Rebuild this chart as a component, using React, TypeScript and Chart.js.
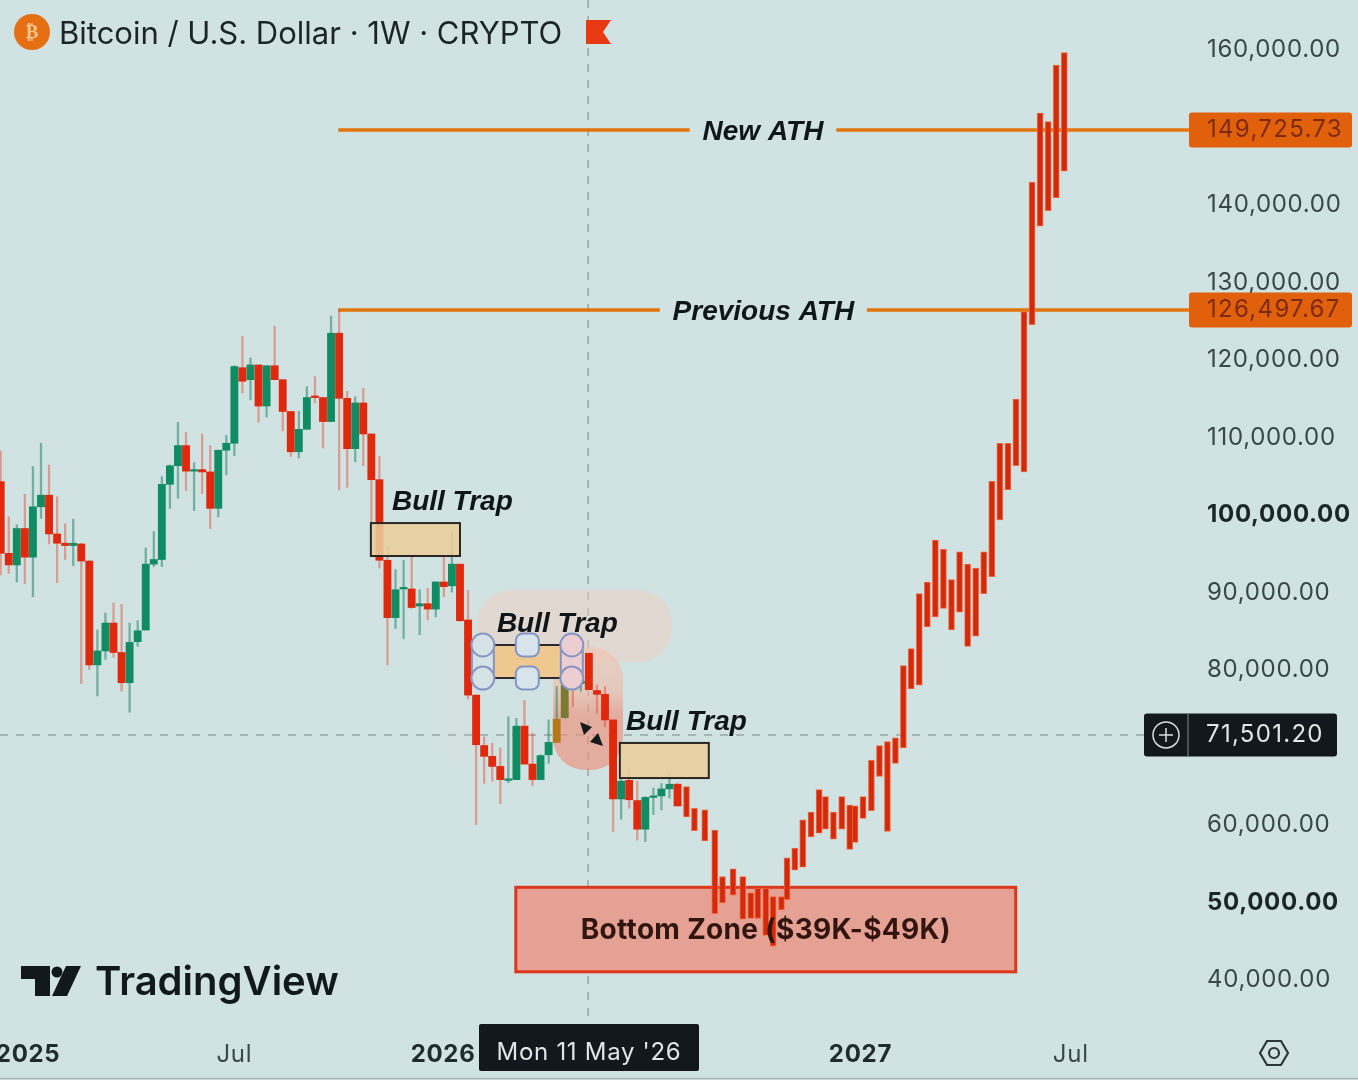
import React, { useEffect, useRef } from "react";
import { Chart, registerables } from "chart.js";

Chart.register(...registerables);

// Weekly candles, prices in thousands of USD
const opens = [
  104.05, 94.8, 93.3, 98.0, 94.3, 100.8, 102.3, 97.3, 96.1, 95.8,
  96, 93.8, 80.4, 82.2, 85.8, 82, 78.1, 83.4, 84.9, 93.4,
  94, 103.7, 106.1, 108.7, 105.4, 105.6, 105.3, 100.6, 108.1, 109,
  118.75, 117.2, 119.1, 113.8, 119, 117.2, 113.1, 107.9, 110.8, 115.1,
  114.9, 111.8, 123.2, 114.8, 108.3, 114.2, 110.2, 104.3, 93.9, 86.5,
  90.2, 90.2, 88, 88.3, 87.6, 91.1, 90.6, 93.4, 86.2, 76.5,
  70, 68.6, 67.3, 65.5, 65.6, 72.5, 67.6, 65.6, 68.8, 70.4,
  73.6, 78, 78, 81.9, 77.1, 76.6, 73.3, 63.1, 65.5, 62.9,
  59.2, 63.3, 63.5, 64.4, 65,
];
const closes = [
  94.8, 93.3, 98, 94.3, 100.8, 102.3, 97.3, 96.1, 95.8, 96.1,
  93.8, 80.4, 82.2, 85.8, 82, 78.1, 83.3, 84.8, 93.4, 94,
  103.7, 106.1, 108.7, 105.4, 105.6, 105.3, 100.6, 108.1, 109, 118.9,
  117, 119.1, 113.8, 119, 117.2, 113.1, 107.9, 110.8, 114.9, 114.9,
  111.8, 123.2, 114.8, 108.3, 114.2, 110.2, 104.3, 93.9, 86.5, 90.1,
  90.4, 87.8, 88.3, 87.6, 91.1, 90.5, 93.4, 86.1, 76.5, 70.1,
  68.6, 67.3, 65.6, 65.7, 72.5, 67.6, 65.6, 68.7, 70.4, 73.4,
  77.8, 77.6, 78.3, 77.2, 76.6, 73.3, 63.1, 65.4, 63, 59.2,
  63.3, 63.5, 64.4, 65, 62.2,
];
const highs = [
  108, 99.5, 98.5, 102.4, 106, 109, 106.2, 102.1, 98.6, 99.2,
  96.1, 93.9, 84.9, 87.1, 88.4, 88.2, 85.8, 86.1, 95.5, 97.6,
  104.7, 106.2, 111.7, 110.4, 106.5, 110.2, 108.7, 108.1, 110, 119,
  122.8, 120, 119.1, 119, 124.1, 117.2, 113.1, 113.1, 116.3, 117.6,
  114.9, 125.4, 126.2, 115.7, 115, 116.1, 110.2, 107.3, 95.7, 92.7,
  93.9, 94.4, 90.1, 90.3, 91.1, 94.4, 97.6, 93.4, 90, 76.5,
  71.1, 70.3, 69.7, 73.7, 73.5, 75.8, 71.6, 68.8, 73.3, 77.6,
  78.2, 80, 79, 81.9, 77.8, 77.6, 73.3, 65.6, 67.1, 65.4,
  63.4, 64.5, 65.1, 66.5, 65.2,
];
const lows = [
  92, 92.2, 91.1, 90.9, 89.2, 99.3, 96, 91, 94, 93.2,
  78, 79.8, 76.4, 81.1, 81.4, 77, 74.3, 82.8, 84.9, 93.1,
  93.1, 100.6, 101.9, 102.9, 100.3, 102.5, 98, 99.5, 104.9, 107.4,
  115.5, 114.6, 111.7, 112.4, 117.2, 110.6, 107.3, 107.1, 110.8, 114.2,
  108.4, 111.8, 103, 103.3, 106.6, 106.1, 98.7, 92.9, 80.4, 85.1,
  83.8, 87.7, 84.3, 86.2, 86.6, 89.2, 89.8, 86, 76, 59.8,
  65.1, 65.4, 62.5, 65.2, 65.6, 67.6, 64.8, 65.6, 67.7, 70.4,
  73.5, 75, 77, 77.2, 74.2, 72.4, 58.9, 60.5, 61.9, 57.8,
  57.6, 61.1, 61.7, 63.2, 62.2,
];

// Hand-drawn projection bars (week position on the time axis, top, bottom)
const projectedWeeks = [
  85.11, 86.1, 87.38, 88.62, 89.58, 90.89, 92.1, 93.09, 93.96, 94.95,
  95.86, 96.9, 97.59, 98.55, 99.54, 100.57, 101.57, 102.36, 103.35, 104.38,
  105.37, 106.03, 107.02, 108.06, 109.06, 110.05, 111.04, 112.03, 113, 114,
  115, 116, 117, 118, 119, 120, 121, 122, 123, 124,
  125, 126, 127, 128, 129, 130, 131, 132,
];
const projectedTops = [
  64.7, 61.9, 61.7, 59.1, 53.1, 54.1, 53.1, 51, 51.6, 51.6,
  50.5, 50.5, 55.5, 56.75, 60.4, 61.4, 64.3, 63.4, 61.4, 63.4,
  62.3, 62.2, 63.4, 68.1, 70, 70.5, 71, 80.3, 82.5, 89.6,
  91.1, 96.5, 95.3, 91.4, 95, 93.4, 92.9, 95, 104.1, 109,
  109, 114.7, 126, 142.7, 151.6, 150.5, 157.8, 159.4,
];
const projectedBottoms = [
  60.8, 59, 57.7, 48.3, 49.7, 50.7, 47.6, 47.7, 47.7, 45.5,
  44.1, 48.8, 50.1, 53.9, 54.3, 58.2, 58.7, 59.2, 57.9, 59.2,
  56.6, 57.5, 60.6, 61.6, 66, 58.9, 67.7, 69.7, 77.3, 77.8,
  85.3, 86.6, 87.7, 84.9, 87.2, 82.8, 84.1, 89.6, 91.8, 99.1,
  103, 106.1, 105.3, 124.3, 137, 139, 140.7, 144.1,
];

const priceTicks = [40000, 50000, 60000, 80000, 90000, 100000, 110000, 120000, 130000, 140000, 160000];
const boldPriceTicks = [50000, 100000];
const timeTickWeeks = [3.4, 29, 54.9, 106.7, 132.8];
const timeTickLabels = ["2025", "Jul", "2026", "2027", "Jul"];
const boldTimeLabels = ["2025", "2026", "2027"];

const levels = [
  { name: "New ATH", price: 149420, tag: "149,725.73", from: 41.9, gapFrom: 85.5, gapTo: 103.7 },
  { name: "Previous ATH", price: 126190, tag: "126,497.67", from: 41.9, gapFrom: 81.8, gapTo: 107.5 },
];
const trapBoxes = [
  { weeks: [45.94, 57], prices: [98.7, 94.45], labelWeek: 56.05, labelPrice: 101.44 },
  { weeks: [76.84, 87.88], prices: [70.33, 65.8], labelWeek: 85.1, labelPrice: 72.94 },
];
const selectedBox = { weeks: [59.84, 70.88], prices: [82.97, 78.7], labelWeek: 69.08, labelPrice: 85.64 };
const bottomZone = { weeks: [63.93, 125.97], prices: [51.7, 40.8], label: "Bottom Zone ($39K-$49K)" };

const crossWeek = 72.9;
const crossLevel = 71360;
const crossPriceLabel = "71,501.20";
const crossDateLabel = "Mon 11 May '26";
const title = "Bitcoin / U.S. Dollar · 1W · CRYPTO";

const BG = "#d1e2e2";
const RED = "#e0290c";
const GREEN = "#0f8c62";
const INK = "#1b2528";
const LEVEL = "#e2760c";
const muddyBodies: Record<number, string> = { 69: "#b5781c", 70: "#7b7a32" };

const bodyColors = opens.map((o, i) => muddyBodies[i] || (closes[i] >= o ? GREEN : RED));
const wickColors = opens.map((o, i) => (closes[i] >= o ? "rgba(15,125,95,0.5)" : "rgba(226,60,30,0.42)"));

function rr(ctx: CanvasRenderingContext2D, x: number, y: number, w: number, h: number, r: number) {
  ctx.beginPath();
  ctx.roundRect(x, y, w, h, r);
}

const annotations = {
  id: "annotations",
  beforeDraw(chart: any) {
    const { ctx, width, height, scales } = chart;
    ctx.save();
    ctx.fillStyle = BG;
    ctx.fillRect(0, 0, width, height);
    ctx.restore();
    ctx.letterSpacing = "0.7px";
    // nudge the price labels to sit where the reference has them
    for (const item of scales.y.getLabelItems()) {
      if (!item.options.nudged) {
        item.options = { ...item.options, nudged: true, translation: [item.options.translation[0], item.options.translation[1] + 2] };
      }
    }
  },
  beforeDatasetsDraw(chart: any) {
    const { ctx, scales } = chart;
    const X = (w: number) => scales.x.getPixelForValue(w);
    const Y = (k: number) => scales.y.getPixelForValue(k * 1000);
    ctx.save();
    // crosshair
    ctx.strokeStyle = "#97a6a7";
    ctx.lineWidth = 1.5;
    ctx.setLineDash([8, 8]);
    ctx.beginPath();
    ctx.moveTo(X(crossWeek), 0);
    ctx.lineTo(X(crossWeek), 1024);
    ctx.moveTo(0, scales.y.getPixelForValue(crossLevel));
    ctx.lineTo(1144, scales.y.getPixelForValue(crossLevel));
    ctx.stroke();
    ctx.setLineDash([]);
    // highlighter strokes
    ctx.fillStyle = "rgba(240,225,215,0.1)";
    rr(ctx, 445, 540, 32, 225, 14);
    ctx.fill();
    ctx.fillStyle = "rgba(246,205,190,0.45)";
    rr(ctx, 477, 590, 195, 72, 34);
    ctx.fill();
    const g = ctx.createLinearGradient(0, 647, 0, 770);
    g.addColorStop(0, "rgba(242,195,175,0.6)");
    g.addColorStop(0.35, "rgba(240,185,165,0.62)");
    g.addColorStop(0.55, "rgba(236,145,125,0.66)");
    g.addColorStop(1, "rgba(236,145,125,0.66)");
    ctx.fillStyle = g;
    rr(ctx, 553, 647, 70, 123, 32);
    ctx.fill();
    // level lines
    for (const l of levels) {
      const y = scales.y.getPixelForValue(l.price);
      ctx.strokeStyle = LEVEL;
      ctx.lineWidth = 3.5;
      ctx.beginPath();
      ctx.moveTo(X(l.from), y);
      ctx.lineTo(X(l.gapFrom), y);
      ctx.moveTo(X(l.gapTo), y);
      ctx.lineTo(chart.chartArea.right, y);
      ctx.stroke();
    }
    // bottom zone
    const zx = X(bottomZone.weeks[0]);
    const zy = Y(bottomZone.prices[0]);
    const zw = X(bottomZone.weeks[1]) - zx;
    const zh = Y(bottomZone.prices[1]) - zy;
    ctx.fillStyle = "#e5a294";
    ctx.fillRect(zx, zy, zw, zh);
    ctx.strokeStyle = "#dc371a";
    ctx.lineWidth = 3;
    ctx.strokeRect(zx, zy, zw, zh);
    ctx.restore();
  },
  afterDatasetsDraw(chart: any) {
    const { ctx, scales } = chart;
    const X = (w: number) => scales.x.getPixelForValue(w);
    const Y = (k: number) => scales.y.getPixelForValue(k * 1000);
    ctx.save();
    ctx.letterSpacing = "0px";
    ctx.textAlign = "center";
    ctx.textBaseline = "middle";

    // bull trap boxes
    for (const b of trapBoxes) {
      const x = X(b.weeks[0]);
      const y = Y(b.prices[0]);
      const w = X(b.weeks[1]) - x;
      const h = Y(b.prices[1]) - y;
      ctx.fillStyle = "rgba(233,205,155,0.88)";
      ctx.fillRect(x, y, w, h);
      ctx.strokeStyle = "#2a2620";
      ctx.lineWidth = 2;
      ctx.strokeRect(x, y, w, h);
      ctx.fillStyle = "#0f1518";
      ctx.font = "italic bold 28px 'Liberation Sans'";
      ctx.fillText("Bull Trap", X(b.labelWeek), Y(b.labelPrice));
    }

    // selected box with its handles
    const sx0 = X(selectedBox.weeks[0]);
    const sx1 = X(selectedBox.weeks[1]);
    const sy0 = Y(selectedBox.prices[0]);
    const sy1 = Y(selectedBox.prices[1]);
    const sxm = (sx0 + sx1) / 2;
    ctx.fillStyle = "#eec88f";
    ctx.fillRect(sx0, sy0, sx1 - sx0, sy1 - sy0);
    ctx.strokeStyle = "#2a2a2e";
    ctx.lineWidth = 2;
    ctx.beginPath();
    ctx.moveTo(sx0, sy0);
    ctx.lineTo(sx1, sy0);
    ctx.moveTo(sx0, sy1);
    ctx.lineTo(sx1, sy1);
    ctx.stroke();
    ctx.strokeStyle = "#8695c4";
    for (const [cx, fill] of [
      [sx0, "#d5e2e6"],
      [sx1, "#eccdd2"],
    ] as [number, string][]) {
      ctx.fillStyle = fill;
      rr(ctx, cx - 11, sy0, 22, sy1 - sy0, 6);
      ctx.fill();
      ctx.stroke();
      for (const cy of [sy0, sy1]) {
        ctx.beginPath();
        ctx.arc(cx, cy, 11.5, 0, Math.PI * 2);
        ctx.fill();
        ctx.stroke();
      }
    }
    ctx.fillStyle = "#d8e4ec";
    for (const cy of [sy0, sy1]) {
      rr(ctx, sxm - 11.5, cy - 11.5, 23, 23, 7);
      ctx.fill();
      ctx.stroke();
    }
    ctx.fillStyle = "#0f1518";
    ctx.font = "italic bold 28px 'Liberation Sans'";
    ctx.fillText("Bull Trap", X(selectedBox.labelWeek), Y(selectedBox.labelPrice));

    // resize cursor
    ctx.fillStyle = "#15191b";
    ctx.beginPath();
    ctx.moveTo(580, 722);
    ctx.lineTo(592, 727);
    ctx.lineTo(584, 735);
    ctx.closePath();
    ctx.moveTo(603, 746);
    ctx.lineTo(590, 742);
    ctx.lineTo(598, 733);
    ctx.closePath();
    ctx.fill();

    // level labels
    for (const l of levels) {
      ctx.fillStyle = "#10171a";
      ctx.font = "italic bold 28px 'Liberation Sans'";
      ctx.fillText(l.name, (X(l.gapFrom) + X(l.gapTo)) / 2, scales.y.getPixelForValue(l.price) + 2);
    }

    // bottom zone label
    ctx.letterSpacing = "0.3px";
    ctx.fillStyle = "#33150f";
    ctx.font = "700 28px Inter";
    ctx.fillText(
      bottomZone.label,
      (X(bottomZone.weeks[0]) + X(bottomZone.weeks[1])) / 2,
      (Y(bottomZone.prices[0]) + Y(bottomZone.prices[1])) / 2 + 1.5
    );
    ctx.restore();
  },
  afterDraw(chart: any) {
    const { ctx, scales } = chart;
    ctx.save();
    ctx.letterSpacing = "0px";
    ctx.textBaseline = "middle";

    // header
    ctx.fillStyle = "#e56f12";
    ctx.beginPath();
    ctx.arc(32, 32, 18, 0, Math.PI * 2);
    ctx.fill();
    ctx.fillStyle = "#f6c890";
    ctx.textAlign = "center";
    ctx.font = "700 19px 'DejaVu Sans'";
    ctx.fillText("₿", 32, 33);
    ctx.fillStyle = INK;
    ctx.textAlign = "left";
    ctx.font = "400 31px Inter";
    ctx.fillText(title, 59, 35);
    ctx.fillStyle = "#e83a12";
    ctx.beginPath();
    ctx.moveTo(586, 20);
    ctx.lineTo(611, 20);
    ctx.lineTo(603, 32);
    ctx.lineTo(611, 44);
    ctx.lineTo(586, 44);
    ctx.closePath();
    ctx.fill();

    // TradingView watermark
    ctx.fillStyle = "#12191c";
    ctx.beginPath();
    ctx.moveTo(21, 966);
    ctx.lineTo(50, 966);
    ctx.lineTo(50, 996);
    ctx.lineTo(35, 996);
    ctx.lineTo(35, 979);
    ctx.lineTo(21, 979);
    ctx.closePath();
    ctx.moveTo(66, 966);
    ctx.lineTo(81, 966);
    ctx.lineTo(67, 996);
    ctx.lineTo(52, 996);
    ctx.closePath();
    ctx.fill();
    ctx.beginPath();
    ctx.arc(57, 972, 5.5, 0, Math.PI * 2);
    ctx.fill();
    ctx.font = "600 40px Inter";
    ctx.fillText("TradingView", 95, 983);

    // level price tags
    ctx.letterSpacing = "1.3px";
    ctx.font = "400 24px Inter";
    for (const l of levels) {
      const y = scales.y.getPixelForValue(l.price);
      ctx.fillStyle = "#e0600c";
      rr(ctx, 1189, y - 17.5, 163, 35, 3);
      ctx.fill();
      ctx.fillStyle = "#7e2a12";
      ctx.textAlign = "left";
      ctx.fillText(l.tag, 1207, y);
    }

    // crosshair tags
    const cy = scales.y.getPixelForValue(crossLevel);
    ctx.fillStyle = "#12181b";
    rr(ctx, 1144, cy - 21.5, 193, 43, 3);
    ctx.fill();
    ctx.strokeStyle = "#5e6668";
    ctx.lineWidth = 1.5;
    ctx.beginPath();
    ctx.moveTo(1188, cy - 21);
    ctx.lineTo(1188, cy + 21);
    ctx.stroke();
    ctx.strokeStyle = "#d9dfdf";
    ctx.beginPath();
    ctx.arc(1166, cy, 13, 0, Math.PI * 2);
    ctx.moveTo(1159, cy);
    ctx.lineTo(1173, cy);
    ctx.moveTo(1166, cy - 7);
    ctx.lineTo(1166, cy + 7);
    ctx.stroke();
    ctx.fillStyle = "#dfe6e6";
    ctx.fillText(crossPriceLabel, 1206, cy);

    ctx.letterSpacing = "0.7px";
    ctx.fillStyle = "#12181b";
    rr(ctx, 479, 1024, 220, 47, 2);
    ctx.fill();
    ctx.fillStyle = "#dfe6e6";
    ctx.textAlign = "center";
    ctx.fillText(crossDateLabel, 589, 1053);

    // settings glyph
    ctx.strokeStyle = "#2b3639";
    ctx.lineWidth = 2.2;
    ctx.beginPath();
    const hex = [
      [1260, 1053],
      [1267, 1041],
      [1281, 1041],
      [1288, 1053],
      [1281, 1065],
      [1267, 1065],
    ];
    hex.forEach(([hx, hy], i) => (i ? ctx.lineTo(hx, hy) : ctx.moveTo(hx, hy)));
    ctx.closePath();
    ctx.stroke();
    ctx.beginPath();
    ctx.arc(1274, 1053, 5, 0, Math.PI * 2);
    ctx.stroke();

    // bottom rule
    ctx.strokeStyle = "#aab7b8";
    ctx.lineWidth = 1.5;
    ctx.beginPath();
    ctx.moveTo(0, 1078.5);
    ctx.lineTo(1358, 1078.5);
    ctx.stroke();
    ctx.restore();
  },
};

export default function App() {
  const ref = useRef<HTMLCanvasElement | null>(null);

  useEffect(() => {
    document.body.style.margin = "0";
    document.body.style.background = BG;
    const chart = new Chart(ref.current as HTMLCanvasElement, {
      type: "bar",
      data: {
        datasets: [
          {
            label: "Projection",
            order: 1,
            data: projectedWeeks.map((w, i) => ({ x: w, y: [projectedBottoms[i] * 1000, projectedTops[i] * 1000] })),
            backgroundColor: "#d22a0b",
            borderColor: "#f4683f",
            borderWidth: 1,
            borderSkipped: false,
            barThickness: 6,
          },
          {
            label: "Body",
            order: 2,
            data: opens.map((o, i) => ({
              x: i,
              y: [Math.min(o, closes[i]) * 1000, Math.max(o, closes[i]) * 1000],
            })),
            backgroundColor: bodyColors,
            barThickness: 7.2,
          },
          {
            label: "Wick",
            order: 3,
            data: highs.map((h, i) => ({ x: i, y: [lows[i] * 1000, h * 1000] })),
            backgroundColor: wickColors,
            barThickness: 1.6,
          },
        ],
      } as any,
      options: {
        animation: false,
        responsive: false,
        events: [],
        layout: { padding: 0 },
        plugins: { legend: { display: false }, tooltip: { enabled: false } },
        datasets: { bar: { grouped: false } },
        scales: {
          x: {
            type: "linear",
            offset: false,
            min: -0.087,
            max: 147.6,
            grid: { display: false, offset: false, drawTicks: false },
            border: { display: false },
            afterBuildTicks: (s: any) => {
              s.ticks = timeTickWeeks.map((value) => ({ value }));
            },
            afterFit: (s: any) => {
              s.height = 50;
              s.paddingLeft = 0;
              s.paddingRight = 0;
            },
            ticks: {
              autoSkip: false,
              maxRotation: 0,
              padding: 10,
              color: (c: any) => (boldTimeLabels.includes(timeTickLabels[c.index]) ? "#1f2b2e" : "#3b484b"),
              font: (c: any) => ({
                family: "Inter",
                size: 24,
                weight: boldTimeLabels.includes(timeTickLabels[c.index]) ? "700" : "400",
              }),
              callback: (_v: any, i: number) => timeTickLabels[i],
            },
          },
          y: {
            type: "linear",
            position: "right",
            min: 33290,
            max: 166194,
            grid: { display: false, drawTicks: false },
            border: { display: false },
            afterBuildTicks: (s: any) => {
              s.ticks = priceTicks.map((value) => ({ value }));
            },
            afterFit: (s: any) => {
              s.width = 168;
              s.paddingTop = 0;
              s.paddingBottom = 0;
            },
            ticks: {
              crossAlign: "near",
              padding: 17,
              color: (c: any) => (boldPriceTicks.includes(c.tick?.value) ? "#1b2629" : "#39474a"),
              font: (c: any) => ({
                family: "Inter",
                size: 24,
                weight: boldPriceTicks.includes(c.tick?.value) ? "700" : "400",
              }),
              callback: (v: any) =>
                Number(v).toLocaleString("en-US", { minimumFractionDigits: 2, maximumFractionDigits: 2 }),
            },
          },
        },
      } as any,
      plugins: [annotations],
    });
    return () => chart.destroy();
  }, []);

  return (
    <canvas
      ref={ref}
      width={1358}
      height={1080}
      style={{ display: "block", width: 1358, height: 1080, filter: "blur(0.6px)" }}
    />
  );
}
